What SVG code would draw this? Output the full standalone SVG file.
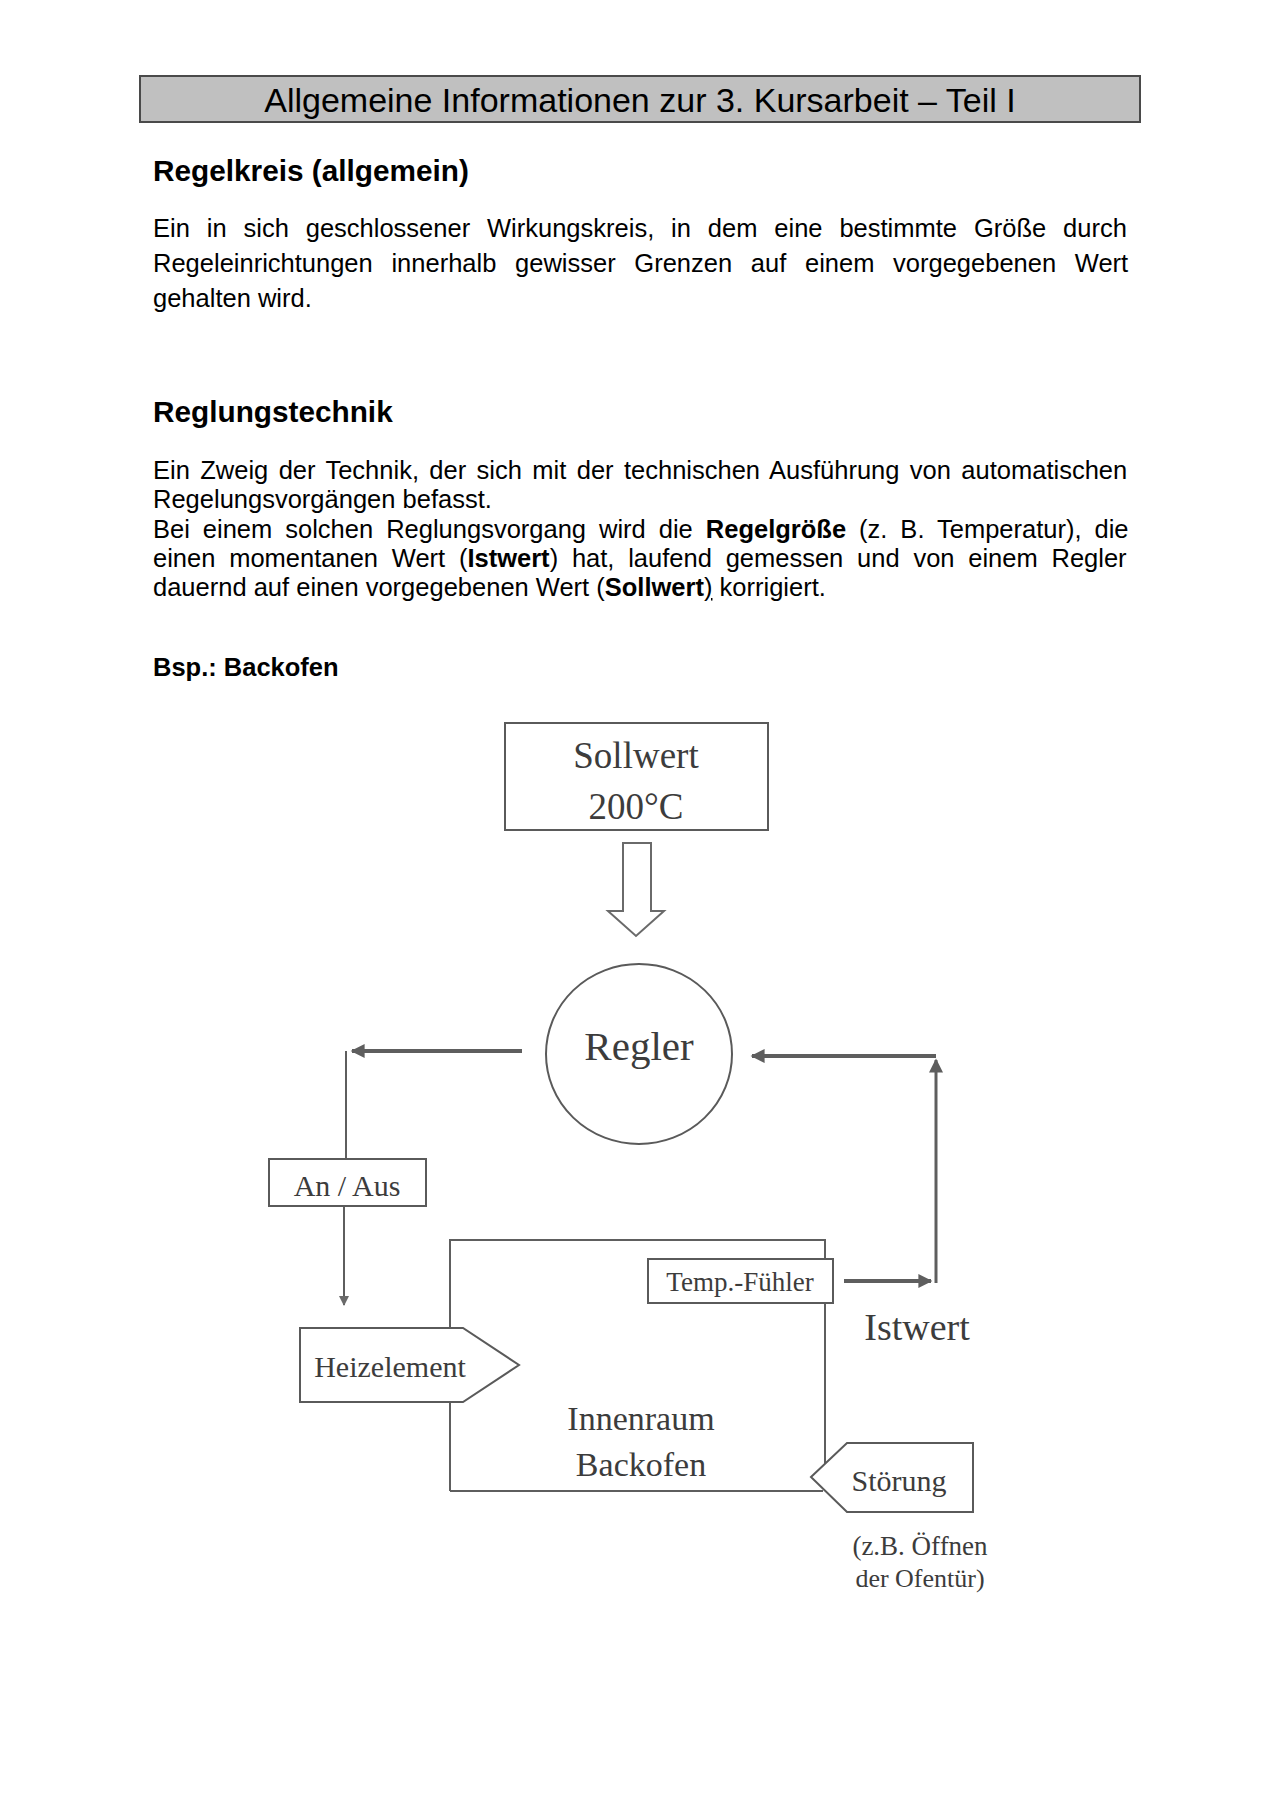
<svg xmlns="http://www.w3.org/2000/svg" width="1280" height="1811" viewBox="0 0 1280 1811">
<style>
.body{font-family:"Liberation Sans",Arial,sans-serif;font-size:25.5px;fill:#000}
.h{font-family:"Liberation Sans",Arial,sans-serif;font-size:29.75px;font-weight:bold;fill:#000}
.b{font-weight:bold}
.dt{font-family:"Liberation Serif","Times New Roman",serif;fill:#3c3c3c;text-anchor:middle}
.shape{fill:#fff;stroke:#5a5a5a;stroke-width:2}
.ln{fill:none;stroke:#5e5e5e;stroke-width:2}
.thick{fill:none;stroke:#5e5e5e;stroke-width:4}
</style>
<defs>
<marker id="ah" viewBox="0 0 10 10" refX="9" refY="5" markerWidth="16" markerHeight="14" markerUnits="userSpaceOnUse" orient="auto">
<path d="M0,0 L10,5 L0,10 Z" fill="#5e5e5e"/>
</marker>
<marker id="ahs" viewBox="0 0 10 10" refX="9" refY="5" markerWidth="12" markerHeight="10" markerUnits="userSpaceOnUse" orient="auto">
<path d="M0,0 L10,5 L0,10 Z" fill="#6a6a6a"/>
</marker>
</defs>
<rect width="1280" height="1811" fill="#fff"/>

<g id="header">
<rect x="140" y="76" width="1000" height="46" fill="#c0c0c0" stroke="#4a4a4a" stroke-width="2"/>
<text x="640" y="112" text-anchor="middle" style="font-family:'Liberation Sans',Arial,sans-serif;font-size:34px;fill:#000">Allgemeine Informationen zur 3. Kursarbeit – Teil I</text>
</g>

<g id="section1">
<text class="h" x="153" y="181">Regelkreis (allgemein)</text>
<text class="body" x="153" y="237" word-spacing="9.8">Ein in sich geschlossener Wirkungskreis, in dem eine bestimmte Größe durch</text>
<text class="body" x="153" y="272" word-spacing="11.6">Regeleinrichtungen innerhalb gewisser Grenzen auf einem vorgegebenen Wert</text>
<text class="body" x="153" y="307">gehalten wird.</text>
</g>

<g id="section2">
<text class="h" x="153" y="422">Reglungstechnik</text>
<text class="body" x="153" y="479" word-spacing="3.3">Ein Zweig der Technik, der sich mit der technischen Ausführung von automatischen</text>
<text class="body" x="153" y="508">Regelungsvorgängen befasst.</text>
<text class="body" x="153" y="538" word-spacing="5.9">Bei einem solchen Reglungsvorgang wird die <tspan class="b">Regelgröße</tspan> (z. B. Temperatur), die</text>
<text class="body" x="153" y="567" word-spacing="6.69">einen momentanen Wert (<tspan class="b">Istwert</tspan>) hat, laufend gemessen und von einem Regler</text>
<text class="body" x="153" y="596">dauernd auf einen vorgegebenen Wert (<tspan class="b">Sollwert</tspan><tspan text-decoration="underline">)</tspan> korrigiert.</text>
<text class="body b" x="153" y="676">Bsp.: Backofen</text>
</g>

<g id="connectors">
<polygon points="623,843 651,843 651,911 664,911 636,936 608,911 623,911" fill="#fff" stroke="#6a6a6a" stroke-width="2"/>
<path class="thick" d="M522,1051 H352" marker-end="url(#ah)"/>
<path class="ln" d="M346,1051 V1159"/>
<path class="ln" d="M344,1206 V1305" marker-end="url(#ahs)"/>
<path class="thick" d="M844,1281 H931" marker-end="url(#ah)"/>
<path class="ln" style="stroke-width:3" d="M936,1283 V1060" marker-end="url(#ah)"/>
<path class="thick" d="M936,1056 H752" marker-end="url(#ah)"/>
</g>

<g id="oven">
<path class="ln" d="M450,1491 V1240 H825 V1466"/>
<path class="ln" d="M450,1491 H823"/>
<text class="dt" x="641" y="1430" font-size="34">Innenraum</text>
<text class="dt" x="641" y="1476" font-size="34">Backofen</text>
</g>

<g id="sollwert">
<rect class="shape" x="505" y="723" width="263" height="107"/>
<text class="dt" x="636" y="768" font-size="37">Sollwert</text>
<text class="dt" x="636" y="819" font-size="37">200°C</text>
</g>

<g id="regler">
<ellipse class="shape" cx="639" cy="1054" rx="93" ry="90"/>
<text class="dt" x="639" y="1060" font-size="41">Regler</text>
</g>

<g id="anaus">
<rect class="shape" x="269" y="1159" width="157" height="47"/>
<text class="dt" x="347" y="1196" font-size="30">An / Aus</text>
</g>

<g id="heizelement">
<polygon class="shape" points="300,1328 463,1328 519,1365 463,1402 300,1402"/>
<text class="dt" x="390" y="1377" font-size="30">Heizelement</text>
</g>

<g id="temp">
<rect class="shape" x="648" y="1259" width="185" height="44"/>
<text class="dt" x="740" y="1291" font-size="27">Temp.-Fühler</text>
</g>

<g id="istwert">
<text class="dt" x="917" y="1340" font-size="38">Istwert</text>
</g>

<g id="stoerung">
<polygon class="shape" points="811,1477 847,1443 973,1443 973,1512 847,1512"/>
<text class="dt" x="899" y="1491" font-size="30">Störung</text>
<text class="dt" x="920" y="1555" font-size="27">(z.B. Öffnen</text>
<text class="dt" x="920" y="1587" font-size="26">der Ofentür)</text>
</g>
</svg>
